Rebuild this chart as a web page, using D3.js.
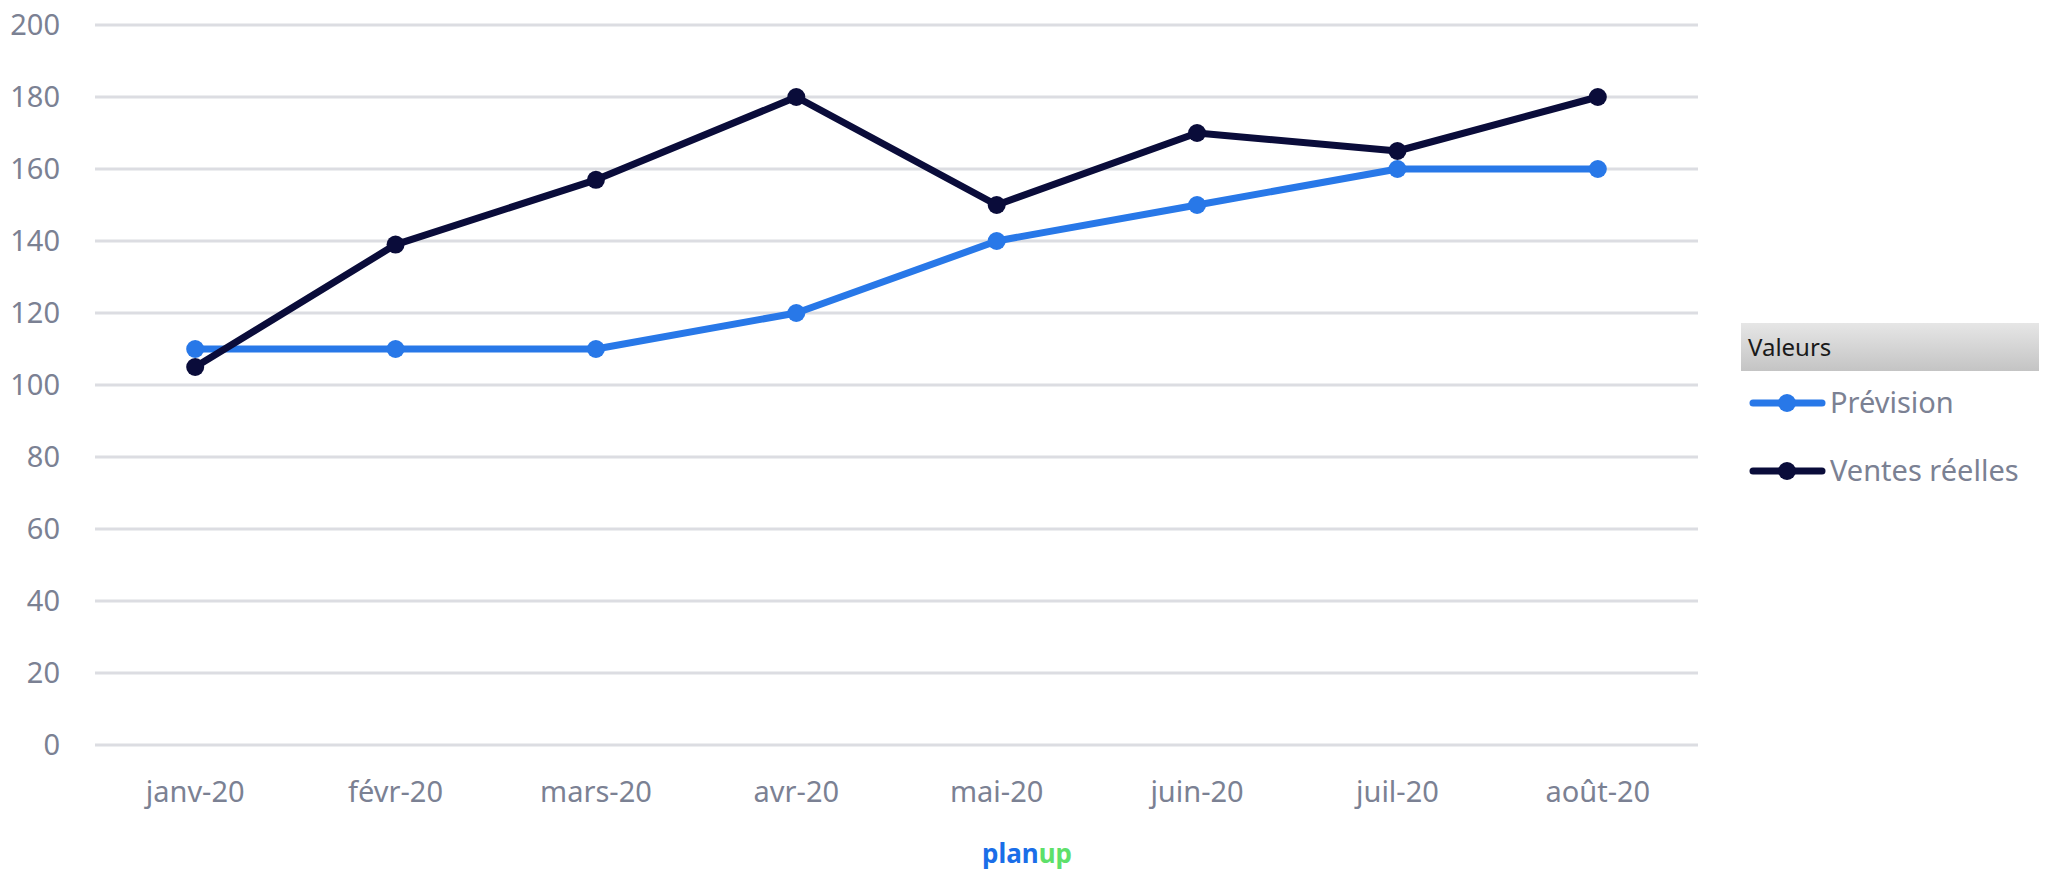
<!DOCTYPE html>
<html>
<head>
<meta charset="utf-8">
<script src="https://d3js.org/d3.v7.min.js"></script>
<style>
  body { margin: 0; background: #fff; }
  text { font-family: "Noto Sans", "Open Sans", sans-serif; }
</style>
</head>
<body>
<svg id="chart" width="2048" height="874"></svg>
<script>
var months = ["janv-20", "févr-20", "mars-20", "avr-20", "mai-20", "juin-20", "juil-20", "août-20"];
var prevision = [110, 110, 110, 120, 140, 150, 160, 160];
var ventes = [105, 139, 157, 180, 150, 170, 165, 180];
var yTicks = [0, 20, 40, 60, 80, 100, 120, 140, 160, 180, 200];
var seriesNames = ["Prévision", "Ventes réelles"];
var seriesColors = ["#2878e8", "#0a0c3a"];

var svg = d3.select("#chart");
var x = d3.scalePoint().domain(months).range([95, 1698]).padding(0.5);
var y = d3.scaleLinear().domain([0, 200]).range([745, 25]);
var textColor = "#7b8193";

// gridlines
svg.append("g").selectAll("line").data(yTicks).join("line")
    .attr("x1", 95).attr("x2", 1698)
    .attr("y1", d => y(d)).attr("y2", d => y(d))
    .attr("stroke", "#dcdde2").attr("stroke-width", 3);

// y labels
svg.append("g").selectAll("text").data(yTicks).join("text")
    .attr("x", 60).attr("y", d => y(d)).attr("dy", "0.35em")
    .attr("text-anchor", "end").attr("font-size", 29).attr("fill", textColor)
    .text(d => d);

// x labels
svg.append("g").selectAll("text").data(months).join("text")
    .attr("x", d => x(d)).attr("y", 792).attr("dy", "0.35em")
    .attr("text-anchor", "middle").attr("font-size", 29).attr("fill", textColor)
    .text(d => d);

var line = d3.line().x((d, i) => x(months[i])).y(d => y(d));
[prevision, ventes].forEach(function(s, k) {
    var g = svg.append("g");
    g.append("path").datum(s).attr("d", line).attr("fill", "none")
        .attr("stroke", seriesColors[k]).attr("stroke-width", 7).attr("stroke-linejoin", "round");
    g.selectAll("circle").data(s).join("circle")
        .attr("cx", (d, i) => x(months[i])).attr("cy", d => y(d)).attr("r", 9)
        .attr("fill", seriesColors[k]);
});

// legend
var grad = svg.append("defs").append("linearGradient").attr("id", "hdr")
    .attr("x1", 0).attr("y1", 0).attr("x2", 0).attr("y2", 1);
grad.append("stop").attr("offset", "0%").attr("stop-color", "#e6e6e6");
grad.append("stop").attr("offset", "100%").attr("stop-color", "#c4c4c4");
svg.append("rect").attr("x", 1741).attr("y", 323).attr("width", 298).attr("height", 48).attr("fill", "url(#hdr)");
svg.append("text").attr("x", 1748).attr("y", 348).attr("dy", "0.35em")
    .attr("font-size", 24).attr("fill", "#1a1a1a").text("Valeurs");
seriesNames.forEach(function(n, k) {
    var ly = 403 + k * 68;
    svg.append("line").attr("x1", 1753).attr("x2", 1822).attr("y1", ly).attr("y2", ly)
        .attr("stroke", seriesColors[k]).attr("stroke-width", 7).attr("stroke-linecap", "round");
    svg.append("circle").attr("cx", 1787).attr("cy", ly).attr("r", 9).attr("fill", seriesColors[k]);
    svg.append("text").attr("x", 1830).attr("y", ly).attr("dy", "0.35em")
        .attr("font-size", 29).attr("fill", textColor).text(n);
});

// logo
var logo = svg.append("text").attr("x", 1027).attr("y", 854).attr("dy", "0.35em")
    .attr("text-anchor", "middle").attr("font-size", 26).attr("font-weight", "bold");
logo.append("tspan").attr("fill", "#1a6ee8").text("plan");
logo.append("tspan").attr("fill", "#5ee06a").text("up");
</script>
</body>
</html>
